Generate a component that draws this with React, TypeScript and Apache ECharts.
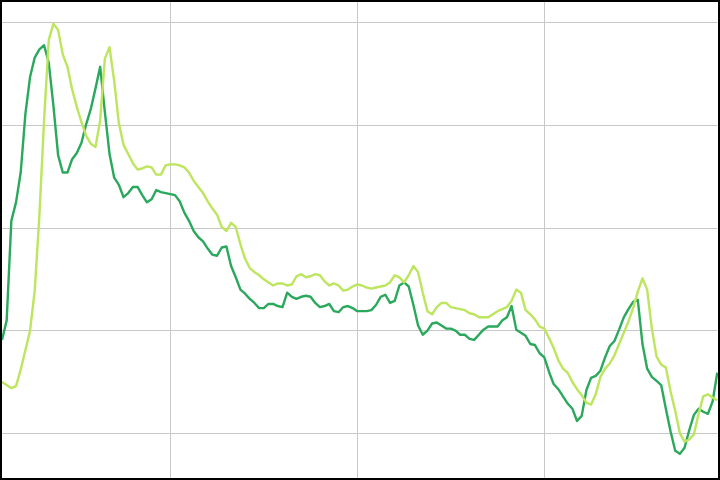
import React, { useEffect, useRef } from "react";
import * as echarts from "echarts";

const darkValues: number[] = [
  91, 110, 207, 225, 254, 311, 347, 366, 374, 378,
  361, 319, 271, 254, 254, 267, 273, 283, 301, 316,
  336, 357, 313, 272, 249, 242, 230, 234, 240, 240,
  232, 225, 228, 237, 235, 234, 233, 232, 226, 215,
  207, 197, 191, 187, 180, 174, 173, 181, 182, 163,
  152, 140, 136, 131, 127, 122, 122, 126, 126, 124,
  123, 137, 133, 131, 133, 134, 133, 127, 123, 124,
  126, 119, 118, 123, 124, 122, 119, 119, 119, 120,
  125, 133, 135, 127, 129, 144, 147, 143, 125, 105,
  96, 100, 107, 108, 105, 102, 102, 100, 96, 96,
  92, 91, 96, 101, 104, 104, 104, 110, 113, 124,
  101, 98, 95, 87, 86, 78, 74, 60, 48, 43,
  36, 29, 24, 12, 17, 42, 54, 56, 61, 74,
  85, 90, 101, 113, 121, 128, 130, 87, 63, 55,
  51, 47, 24, 2, -17, -20, -14, 3, 18, 24,
  21, 19, 31, 59,
];

const lightValues: number[] = [
  50, 47, 44, 46, 62, 81, 100, 139, 212, 305,
  383, 399, 393, 369, 357, 335, 318, 303, 290, 282,
  279, 305, 365, 376, 343, 302, 281, 272, 263, 257,
  258, 260, 259, 252, 252, 261, 262, 262, 261, 259,
  254, 246, 240, 234, 226, 219, 213, 201, 197, 205,
  201, 184, 170, 161, 157, 154, 150, 147, 144, 146,
  146, 144, 145, 153, 155, 152, 153, 155, 154, 148,
  144, 146, 144, 139, 140, 143, 145, 144, 142, 141,
  142, 143, 144, 147, 154, 152, 147, 154, 163, 157,
  137, 119, 116, 123, 127, 127, 123, 122, 121, 120,
  117, 116, 113, 113, 113, 116, 119, 121, 123, 129,
  140, 137, 120, 116, 111, 104, 102, 93, 83, 71,
  63, 59, 50, 43, 37, 30, 28, 38, 55, 63,
  68, 76, 87, 98, 109, 122, 138, 151, 140, 102,
  75, 67, 64, 41, 22, 0, -8, -6, -1, 19,
  36, 38, 35, 32,
];

const categories: string[] = darkValues.map((_, i) => String(i + 1));

export default function App() {
  const ref = useRef<HTMLDivElement>(null);

  useEffect(() => {
    if (!ref.current) return;
    const chart = echarts.init(ref.current, undefined, { renderer: "svg" });
    chart.setOption({
      animation: false,
      grid: { left: 2, right: 2.72, top: 0, bottom: 0, containLabel: false },
      xAxis: {
        type: "category",
        data: categories,
        boundaryGap: false,
        axisLine: { show: false },
        axisTick: { show: false },
        axisLabel: { show: false },
        splitLine: {
          show: true,
          interval: (index: number) => index % 40 === 36,
          lineStyle: { color: "#c8c8c8", width: 1 },
        },
      },
      yAxis: {
        type: "value",
        min: -100,
        max: 500,
        interval: 100,
        axisLine: { show: false },
        axisTick: { show: false },
        axisLabel: { show: false },
        splitLine: { show: true, lineStyle: { color: "#c8c8c8", width: 1 } },
      },
      series: [
        {
          type: "line",
          data: darkValues,
          showSymbol: false,
          smooth: false,
          lineStyle: { color: "#2aa85c", width: 2.4, join: "round" },
          itemStyle: { color: "#2aa85c" },
        },
        {
          type: "line",
          data: lightValues,
          showSymbol: false,
          smooth: false,
          lineStyle: { color: "#bde55e", width: 2.4, join: "round" },
          itemStyle: { color: "#bde55e" },
        },
      ],
    });
    return () => chart.dispose();
  }, []);

  return (
    <div
      style={{
        position: "fixed",
        left: 0,
        top: 0,
        width: 720,
        height: 480,
        background: "#fff",
        overflow: "hidden",
      }}
    >
      <div
        ref={ref}
        style={{ position: "absolute", left: 0, top: -80.4, width: 720, height: 616.1 }}
      />
      <div
        style={{
          position: "absolute",
          left: 0,
          top: 0,
          width: 720,
          height: 480,
          boxSizing: "border-box",
          border: "2px solid #000",
          pointerEvents: "none",
        }}
      />
    </div>
  );
}
